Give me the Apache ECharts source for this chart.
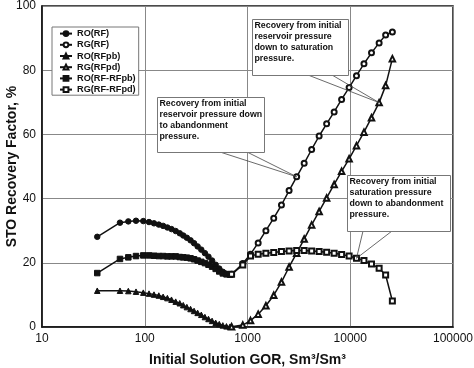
<!DOCTYPE html>
<html>
<head>
<meta charset="utf-8">
<script src="https://cdn.jsdelivr.net/npm/echarts@6/dist/echarts.min.js"></script>
<style>
html,body{margin:0;padding:0;background:#fff;}
#chart{width:474px;height:368px;}
</style>
</head>
<body>
<div id="chart"></div>
<script>
// ---- data ----
const roGOR   = [34.5, 57.4, 69.2, 82.2, 96.8, 110, 123, 137, 151, 166, 182, 200, 219, 237, 257, 279, 302, 327, 355, 385, 417, 452, 490, 531, 575, 624, 676];
const roRF    = [28.1, 32.5, 32.9, 33.1, 33.0, 32.7, 32.3, 31.9, 31.5, 31.0, 30.5, 29.9, 29.2, 28.5, 27.8, 27.0, 26.1, 25.1, 24.1, 23.0, 21.9, 20.7, 19.4, 18.2, 17.2, 16.6, 16.4];
const roRFpb  = [11.3, 11.3, 11.2, 11.0, 10.7, 10.4, 10.1, 9.8, 9.4, 9.0, 8.5, 7.9, 7.4, 6.8, 6.2, 5.6, 5.0, 4.4, 3.8, 3.1, 2.5, 1.9, 1.3, 0.9, 0.5, 0.2, 0.1];
const roRFdiff= [16.8, 21.2, 21.7, 22.1, 22.3, 22.3, 22.2, 22.1, 22.1, 22.0, 22.0, 22.0, 21.8, 21.7, 21.6, 21.4, 21.1, 20.7, 20.3, 19.9, 19.4, 18.8, 18.1, 17.3, 16.7, 16.4, 16.3];

const rgGOR   = [700, 900, 1070, 1270, 1510, 1800, 2140, 2540, 3010, 3560, 4210, 4980, 5890, 6970, 8240, 9750, 11500, 13600, 16100, 19100, 22100, 25700];
const rgRF    = [16.4, 19.8, 22.7, 26.2, 30.0, 33.9, 38.0, 42.5, 46.8, 51.0, 55.3, 59.5, 63.3, 67.0, 70.9, 74.6, 78.3, 82.0, 85.4, 88.5, 91.0, 91.9];
const rgRFpd  = [0.1, 0.6, 2.0, 4.0, 6.6, 9.9, 14.0, 18.7, 23.0, 27.4, 31.8, 36.0, 40.2, 44.4, 48.5, 52.4, 56.5, 60.7, 65.2, 69.9, 75.2, 83.6];
const rgRFdiff= [16.4, 19.3, 22.1, 22.7, 23.0, 23.2, 23.5, 23.7, 23.8, 23.8, 23.7, 23.5, 23.3, 23.0, 22.6, 22.1, 21.4, 20.7, 19.6, 18.3, 16.2, 8.1];

const seriesNames = ['RO(RF)', 'RG(RF)', 'RO(RFpb)', 'RG(RFpd)', 'RO(RF-RFpb)', 'RG(RF-RFpd)'];
const xTicks = [10, 100, 1000, 10000, 100000];
const yTicks = [0, 20, 40, 60, 80, 100];

const notes = [
  ['Recovery from initial', 'reservoir pressure down', 'to abandonment', 'pressure.'],
  ['Recovery from initial', 'reservoir pressure', 'down to saturation', 'pressure.'],
  ['Recovery from initial', 'saturation pressure', 'down to abandonment', 'pressure.']
];

// ---- build ----
const FONT = 'Liberation Sans, Arial, Helvetica, sans-serif';
const pairs = (xs, ys) => xs.map((x, i) => [x, ys[i]]);

function mk(name, xs, ys, symbol, size) {
  return {
    name: name, type: 'line', data: pairs(xs, ys),
    symbol: symbol, symbolSize: size, showSymbol: true,
    lineStyle: { color: '#111', width: 1.5 },
    itemStyle: { color: '#111', borderColor: '#111', borderWidth: 1 },
    emphasis: { disabled: true },
    animation: false, z: 3
  };
}

const chart = echarts.init(document.getElementById('chart'), null, { renderer: 'canvas' });

const option = {
  animation: false,
  backgroundColor: '#fff',
  textStyle: { fontFamily: FONT },
  grid: { left: 42, right: 21, top: 6, bottom: 41, containLabel: false, outerBoundsMode: 'none',
          show: true, borderColor: '#111', borderWidth: 1.5, backgroundColor: 'transparent' },
  legend: {
    orient: 'vertical', left: 52, top: 27,
    data: seriesNames,
    itemWidth: 12, itemHeight: 6, itemGap: 0,
    padding: [1, 3, 0, 7],
    backgroundColor: '#fff', borderColor: '#777', borderWidth: 1,
    textStyle: { fontFamily: FONT, fontSize: 9.2, fontWeight: 'bold', color: '#111', lineHeight: 11.2 },
    selectedMode: false, z: 10
  },
  xAxis: {
    type: 'log', logBase: 10, min: xTicks[0], max: xTicks[xTicks.length - 1],
    name: 'Initial Solution GOR, Sm\u00B3/Sm\u00B3', nameLocation: 'middle', nameGap: 26, nameMoveOverlap: false,
    nameTextStyle: { fontFamily: FONT, fontSize: 14, fontWeight: 'bold', color: '#111' },
    axisLine: { show: true, lineStyle: { color: '#111', width: 1.5 } },
    axisTick: { show: false },
    minorTick: { show: false },
    axisLabel: { fontFamily: FONT, fontSize: 12, color: '#111', margin: 6, formatter: v => String(Math.round(v)) },
    splitLine: { show: true, lineStyle: { color: '#888', width: 1 } }
  },
  yAxis: {
    type: 'value', min: yTicks[0], max: yTicks[yTicks.length - 1], interval: yTicks[1] - yTicks[0],
    name: 'STO Recovery Factor, %', nameLocation: 'middle', nameGap: 23, nameMoveOverlap: false,
    nameTextStyle: { fontFamily: FONT, fontSize: 14, fontWeight: 'bold', color: '#111' },
    axisLine: { show: true, lineStyle: { color: '#111', width: 1.5 } },
    axisTick: { show: false },
    axisLabel: { fontFamily: FONT, fontSize: 12, color: '#111', margin: 6 },
    splitLine: { show: true, lineStyle: { color: '#888', width: 1 } }
  },
  series: [
    mk(seriesNames[0], roGOR, roRF, 'circle', 5.5),
    mk(seriesNames[1], rgGOR, rgRF, 'emptyCircle', 5),
    mk(seriesNames[2], roGOR, roRFpb, 'triangle', 5.5),
    mk(seriesNames[3], rgGOR, rgRFpd, 'emptyTriangle', 5.5),
    mk(seriesNames[4], roGOR, roRFdiff, 'rect', 5.5),
    mk(seriesNames[5], rgGOR, rgRFdiff, 'emptyRect', 5)
  ]
};
chart.setOption(option);

// ---- callout boxes ----
const boxes = [
  { x: 157, y: 97,  w: 107, h: 55, base: [220, 247], tip: [rgGOR[8],  rgRF[8]] },
  { x: 252, y: 19,  w: 96,  h: 56, base: [308, 332], tip: [rgGOR[19], rgRFpd[19]] },
  { x: 347, y: 175, w: 103, h: 56, base: [363, 392], tip: [rgGOR[16], rgRFdiff[16]] }
];
const graphics = [];
boxes.forEach((b, i) => {
  const t = chart.convertToPixel({ gridIndex: 0 }, b.tip);
  const by = b.y + b.h;
  graphics.push({
    type: 'polyline', z: 20, silent: true,
    shape: { points: [[b.base[0], by], t, [b.base[1], by]] },
    style: { stroke: '#444', lineWidth: 0.8, fill: null }
  });
  graphics.push({
    type: 'rect', z: 21, silent: true,
    shape: { x: b.x + 0.5, y: b.y + 0.5, width: b.w, height: b.h },
    style: { fill: '#fff', stroke: '#777', lineWidth: 1 }
  });
  graphics.push({
    type: 'text', z: 22, silent: true,
    x: b.x + 2.5, y: b.y + 1,
    style: {
      text: notes[i].join('\n'), fontFamily: FONT, fontSize: 8.8, fontWeight: 'bold',
      fill: '#111', lineHeight: 11, verticalAlign: 'top', align: 'left'
    }
  });
});
chart.setOption({ graphic: graphics });
</script>
</body>
</html>
